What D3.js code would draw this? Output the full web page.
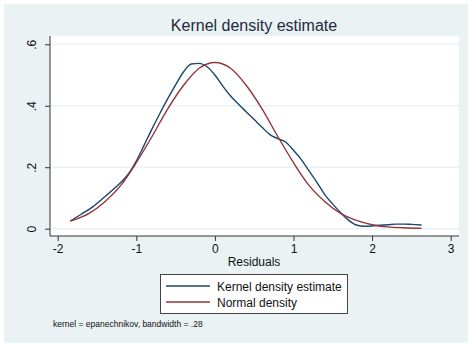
<!DOCTYPE html>
<html>
<head>
<meta charset="utf-8">
<script src="https://cdn.jsdelivr.net/npm/d3@7"></script>
<style>
  body { margin: 0; background: #fff; }
  text { font-family: "Liberation Sans", Arial, sans-serif; }
</style>
</head>
<body>
<div id="chart-container"></div>
<script>
// kernel density estimate
const kernelX = [-1.84, -1.7, -1.55, -1.4, -1.25, -1.1, -1.0, -0.9, -0.8, -0.7, -0.6, -0.5, -0.4, -0.3, -0.2, -0.1, 0.0, 0.1, 0.2, 0.3, 0.4, 0.5, 0.6, 0.7, 0.8, 0.9, 1.0, 1.1, 1.2, 1.3, 1.4, 1.5, 1.6, 1.7, 1.8, 1.9, 2.0, 2.1, 2.2, 2.3, 2.4, 2.5, 2.63];
const kernelY = [0.025, 0.047, 0.072, 0.104, 0.138, 0.178, 0.220, 0.272, 0.325, 0.375, 0.423, 0.468, 0.510, 0.536, 0.538, 0.527, 0.500, 0.464, 0.432, 0.405, 0.380, 0.355, 0.330, 0.306, 0.293, 0.282, 0.255, 0.225, 0.187, 0.150, 0.110, 0.080, 0.052, 0.028, 0.012, 0.008, 0.009, 0.011, 0.013, 0.015, 0.015, 0.014, 0.012];

// normal density
const normalX = [-1.84, -1.6, -1.4, -1.2, -1.0, -0.8, -0.6, -0.4, -0.2, 0.0, 0.2, 0.4, 0.6, 0.8, 1.0, 1.2, 1.4, 1.6, 1.8, 2.0, 2.2, 2.4, 2.63];
const normalY = [0.025, 0.050, 0.088, 0.140, 0.215, 0.300, 0.390, 0.466, 0.522, 0.541, 0.522, 0.466, 0.390, 0.300, 0.215, 0.140, 0.088, 0.050, 0.027, 0.013, 0.006, 0.003, 0.001];

const xTicks = [-2, -1, 0, 1, 2, 3];
const xTickLabels = ["-2", "-1", "0", "1", "2", "3"];
const yTicks = [0, 0.2, 0.4, 0.6];
const yTickLabels = ["0", ".2", ".4", ".6"];
const legendLabels = ["Kernel density estimate", "Normal density"];
const colors = ["#1a476f", "#90353b"];

const width = 474, height = 346;
const plot = { left: 50, right: 459, top: 36, bottom: 236 };

const svg = d3.select("#chart-container")
  .append("svg")
  .attr("width", width)
  .attr("height", height);

// graph region
svg.append("rect")
  .attr("x", 4).attr("y", 4)
  .attr("width", 464).attr("height", 339)
  .attr("fill", "#eaf2f3");

// plot region
svg.append("rect")
  .attr("x", plot.left).attr("y", plot.top)
  .attr("width", plot.right - plot.left).attr("height", plot.bottom - plot.top)
  .attr("fill", "#fff");

const x = d3.scaleLinear().domain([-2, 3]).range([57.7, 450.7]);
const y = d3.scaleLinear().domain([0, 0.6]).range([228.7, 44.3]);

// gridlines
svg.append("g")
  .selectAll("line")
  .data(yTicks)
  .join("line")
  .attr("x1", plot.left).attr("x2", plot.right)
  .attr("y1", (d) => y(d)).attr("y2", (d) => y(d))
  .attr("stroke", "#eaf2f3")
  .attr("stroke-width", 1.5);

// axes
const xAxis = svg.append("g")
  .attr("transform", `translate(0,${plot.bottom})`)
  .call(d3.axisBottom(x).tickValues(xTicks).tickSize(5).tickPadding(3).tickFormat((d, i) => xTickLabels[i]));
xAxis.select(".domain").attr("d", `M${plot.left},0H${plot.right}`);

const yAxis = svg.append("g")
  .attr("transform", `translate(${plot.left},0)`)
  .call(d3.axisLeft(y).tickValues(yTicks).tickSize(5).tickFormat((d, i) => yTickLabels[i]));
yAxis.select(".domain").attr("d", `M0,${plot.top}V${plot.bottom}`);

[xAxis, yAxis].forEach((g) => {
  g.selectAll(".domain, .tick line").attr("stroke", "#333").attr("stroke-width", 1);
  g.selectAll(".tick text")
    .attr("fill", "#111")
    .style("font-size", "12px")
    .style("font-family", "'Liberation Sans', Arial, sans-serif");
});

yAxis.selectAll(".tick text")
  .attr("x", 0).attr("dy", null)
  .attr("transform", "translate(-14,0) rotate(-90)")
  .attr("text-anchor", "middle");

// curves
const line = d3.line()
  .x((d) => x(d[0]))
  .y((d) => y(d[1]))
  .curve(d3.curveMonotoneX);

const series = [d3.zip(kernelX, kernelY), d3.zip(normalX, normalY)];
series.forEach((s, i) => {
  svg.append("path")
    .datum(s)
    .attr("fill", "none")
    .attr("stroke", colors[i])
    .attr("stroke-width", 1.4)
    .attr("d", line);
});

// titles
svg.append("text")
  .attr("x", 254).attr("y", 31)
  .attr("text-anchor", "middle")
  .attr("fill", "#1e2b3c")
  .style("font-size", "16px")
  .text("Kernel density estimate");

svg.append("text")
  .attr("x", 254).attr("y", 266)
  .attr("text-anchor", "middle")
  .attr("fill", "#111")
  .style("font-size", "12px")
  .text("Residuals");

// legend
const legend = svg.append("g");
legend.append("rect")
  .attr("x", 160.5).attr("y", 274.5)
  .attr("width", 187).attr("height", 39)
  .attr("fill", "#fff")
  .attr("stroke", "#444")
  .attr("stroke-width", 1);

legendLabels.forEach((label, i) => {
  legend.append("line")
    .attr("x1", 166).attr("x2", 210)
    .attr("y1", 286 + i * 16).attr("y2", 286 + i * 16)
    .attr("stroke", colors[i])
    .attr("stroke-width", 1.4);
  legend.append("text")
    .attr("x", 217).attr("y", 290.5 + i * 16)
    .attr("fill", "#111")
    .style("font-size", "12px")
    .text(label);
});

// note
svg.append("text")
  .attr("x", 53).attr("y", 327)
  .attr("fill", "#111")
  .style("font-size", "8.5px")
  .text("kernel = epanechnikov, bandwidth = .28");
</script>
</body>
</html>
